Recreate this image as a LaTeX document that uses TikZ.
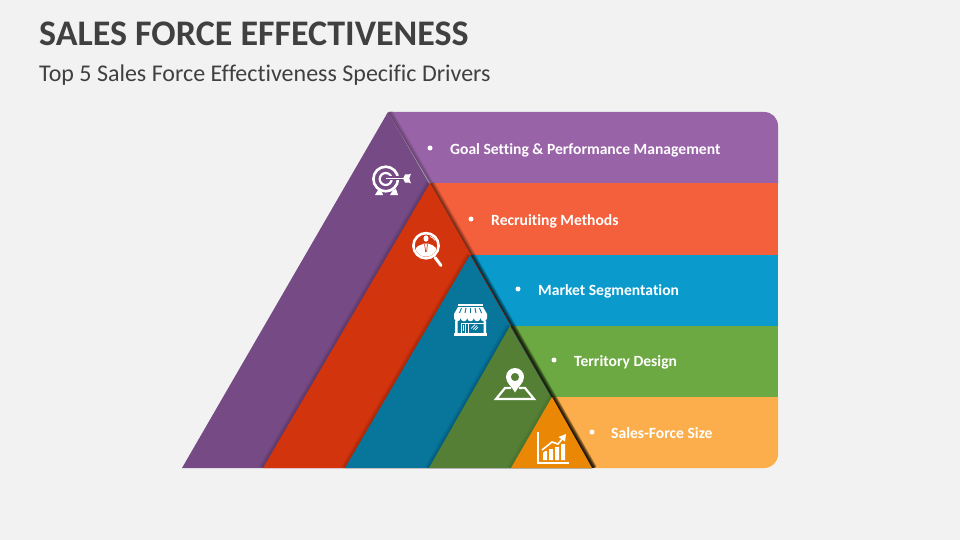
\documentclass[tikz,border=0pt]{standalone}
\usepackage{fontspec}
\setmainfont[Ligatures=NoCommon]{Carlito}
\definecolor{bgc}{HTML}{F2F2F2}
\definecolor{ink}{HTML}{404040}
\definecolor{bandA}{HTML}{9963A8}
\definecolor{bandB}{HTML}{F4603B}
\definecolor{bandC}{HTML}{0A9BCC}
\definecolor{bandD}{HTML}{6CA942}
\definecolor{bandE}{HTML}{FBAE4B}
\definecolor{triA}{HTML}{754A85}
\definecolor{triB}{HTML}{D2340E}
\definecolor{triC}{HTML}{08759B}
\definecolor{triD}{HTML}{547F35}
\definecolor{triE}{HTML}{EA8806}
\tikzset{
  x=1pt,y=-1pt,
  label text/.style={text=white,font=\fontsize{15.6}{18}\selectfont\bfseries,anchor=base west,inner sep=0pt},
  dot/.style={circle,fill=white,inner sep=0pt,minimum size=5pt},
  iconline/.style={draw=white,line width=2.2pt,fill=none},
}
% shadow + fill of one triangle: apex x, apex y, left x, colour, left-edge shadow strength
\newcommand{\tri}[5]{%
  \begin{scope}
    \clip (0,0) rectangle (960,467.6);
    \foreach \w in {8,6.6,5.2,3.8,2.4,1.2}{
      \draw[black,opacity=.06,line width=\w pt,line cap=butt,xshift=1pt,yshift=-.5pt]
        (#1,#2) -- (592,468);
      \draw[black,opacity=#5,line width=\w pt,line cap=butt,xshift=-.4pt]
        (#1,#2) -- (#3,468);
    }
  \end{scope}
  \fill[#4] (#1,#2) -- (592,468) -- (#3,468) -- cycle;
}
\begin{document}
\begin{tikzpicture}
\useasboundingbox (0,0) rectangle (960,540);
\fill[bgc] (0,0) rectangle (960,540);
\node[anchor=base west,inner sep=0pt,text=ink,font=\fontsize{36}{40}\selectfont\bfseries] (title) at (39,46) {SALES FORCE EFFECTIVENESS};
\node[anchor=base west,inner sep=0pt,text=ink,font=\fontsize{24}{26}\selectfont] (subtitle) at (39,81.6) {Top 5 Sales Force Effectiveness Specific Drivers};
% bands
\fill[bandA] (388,112) -- (764,112) .. controls (772,112) and (778,118) .. (778,126) -- (778,183) -- (430,183) -- cycle;
\fill[bandB] (430,183) rectangle (778,255);
\fill[bandC] (470,255) rectangle (778,326);
\fill[bandD] (510,326) rectangle (778,397);
\fill[bandE] (552,397) -- (778,397) -- (778,454) .. controls (778,462) and (772,468) .. (764,468) -- (592,468) -- cycle;
% triangles
\tri{388}{112}{182}{triA}{0}
\tri{430}{183}{263}{triB}{.03}
\tri{470}{255}{345}{triC}{.03}
\tri{510}{326}{429}{triD}{.03}
\tri{552}{397}{511}{triE}{.015}
% labels
\node[dot] (d1) at (430,148) {};
\node[label text] (l1) at (450,154.6) {Goal Setting \& Performance Management};
\node[dot] (d2) at (471,219) {};
\node[label text] (l2) at (491,225.4) {Recruiting Methods};
\node[dot] (d3) at (518,289) {};
\node[label text] (l3) at (538,295.4) {Market Segmentation};
\node[dot] (d4) at (554,360) {};
\node[label text] (l4) at (574,366.4) {Territory Design};
\node[dot] (d5) at (592,432) {};
\node[label text] (l5) at (611,438.4) {Sales-Force Size};
% target icon
\draw[iconline,line width=2.6pt] (385.7,179) circle[radius=12.3];
\draw[iconline] (385.7,179) circle[radius=6];
\draw[triA,line width=4pt] (386,178.5) -- (402,178.5);
\draw[white,line width=1.5pt] (385.5,178.5) -- (405,178.5);
\fill[white] (403,178.5) -- (405,174.5) -- (409,174.5) -- (411,173.5) -- (409.3,178.5) -- (411,183.5) -- (409,182.5) -- (405,182.5) -- cycle;
\fill[white] (378,190) -- (382,192) -- (383,195) -- (375,195) -- cycle;
\fill[white] (393,190) -- (396,189) -- (398,195) -- (390,195) -- cycle;
% magnifier icon
\begin{scope}
  \clip (426,245.7) circle[radius=11];
  \fill[white] (416,258) -- (416,248) .. controls (418,245) and (422,245) .. (424,243.5) -- (428,243.5) .. controls (431,245) and (434,245) .. (436,248) -- (436,258) -- cycle;
  \draw[triB,line width=.7pt] (424.6,244) -- (425.6,252) (427.4,244) -- (426.6,252);
\end{scope}
\fill[white] (426,238.5) ellipse[x radius=2.5,y radius=3.2];
\draw[iconline,line width=2.6pt] (426,245.7) circle[radius=12.6];
\draw[white,line width=.7pt] (430,236.5) .. controls (432,237) and (434,238.5) .. (435,240.5);
\draw[white,line width=3pt,line cap=round] (435,257.5) -- (441,265.5);
% store icon
\fill[white] (458,303.5) rectangle (483,305.5);
\fill[white] (458,307) -- (483,307) -- (487,314) -- (487,318) -- (454,318) -- (454,314) -- cycle;
\foreach \cx in {457.3,463.9,470.5,477.1,483.7}{\fill[white] (\cx,318) circle[radius=3.3];}
\draw[triC,line width=.9pt] (461.5,308) -- (459.5,313) (466,308) -- (465,313) (470.5,308) -- (470.5,313) (475,308) -- (476,313) (479.5,308) -- (481.5,313);
\fill[white] (455,321) rectangle (457.5,333) (483.5,321) rectangle (486,333);
\fill[white] (454,333) rectangle (487,335.5);
\draw[white,line width=.8pt] (465,323) -- (465,333) (468,323) -- (468,333) (461,333) -- (461,323) -- (484,323);
\fill[white] (462.7,325) rectangle (463.7,331);
\draw[white,line width=.7pt] (471,328.5) -- (475,324.5) (473,329.5) -- (477,325.5) (475,330) -- (478,327);
% map pin icon
\draw[iconline,line join=miter] (519,388) -- (525,388) -- (534,399) -- (496,399) -- (505,388) -- (511,388);
\fill[white,even odd rule] (515,392.5) .. controls (512,386.5) and (506,383) .. (506,377) .. controls (506,372) and (510,368) .. (515,368) .. controls (520,368) and (524,372) .. (524,377) .. controls (524,383) and (518,386.5) .. (515,392.5) -- cycle (515,377) circle[radius=4.2];
% chart icon
\draw[white,line width=1.7pt,line join=miter] (538,432) -- (538,463) -- (569,463);
\fill[white] (543,451) rectangle (547,460) (549,449) rectangle (553,460) (555,447) rectangle (559,460) (561,444) rectangle (565,460);
\draw[triE,line width=4pt] (542,451) -- (552,442.5) -- (558,444.5) -- (564,438);
\draw[white,line width=1.6pt] (542,450) -- (552,442) -- (558,444) -- (563,438);
\fill[white] (566,434) -- (558.5,437) -- (565,441.5) -- cycle;
\end{tikzpicture}
\end{document}
